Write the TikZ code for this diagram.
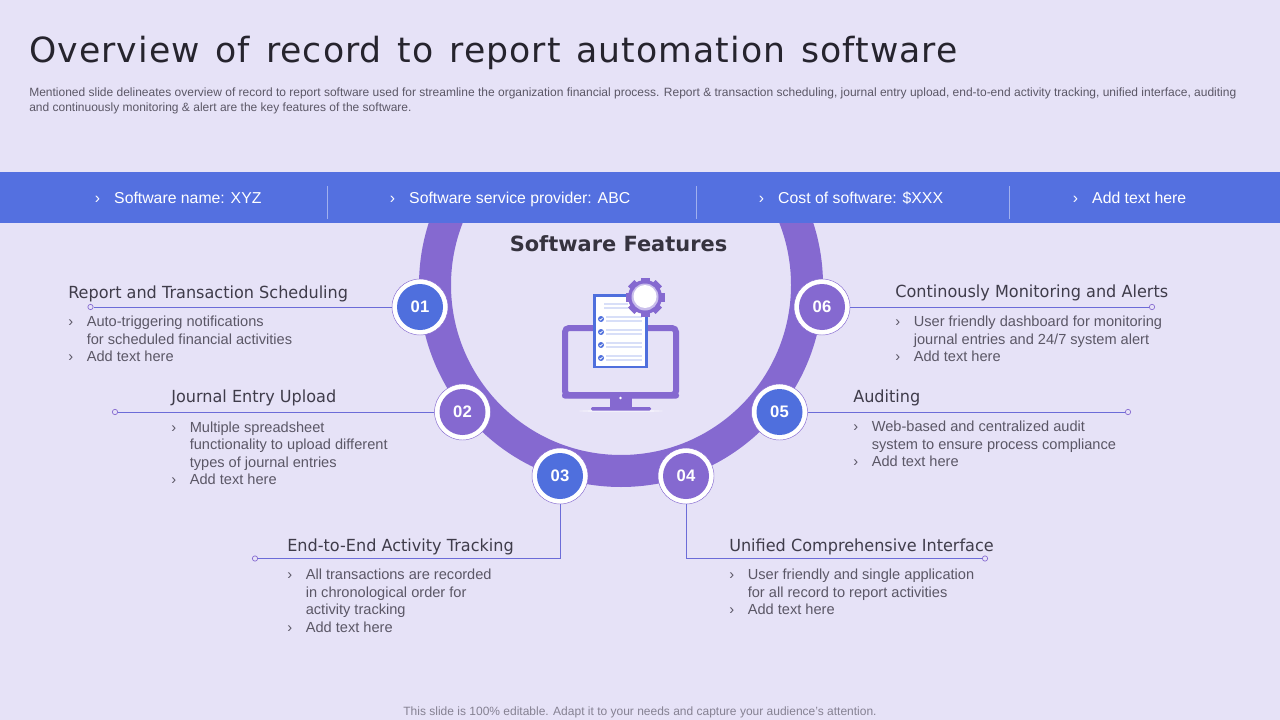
\documentclass[tikz,border=0pt]{standalone}
\usepackage{fontspec}
\setmainfont{Liberation Sans}
\newfontfamily\headfont{DejaVu Sans}
\newfontfamily\subheadfont[FakeStretch=0.965]{DejaVu Sans}
\newfontfamily\titlefont[LetterSpace=3,WordSpace=1.32]{DejaVu Sans}
\definecolor{slidebg}{HTML}{E6E2F7}
\definecolor{bandblue}{HTML}{5470E0}
\definecolor{discblue}{HTML}{4F6FDD}
\definecolor{ringpurple}{HTML}{8569D0}
\definecolor{inkdark}{HTML}{26242E}
\definecolor{inkhead}{HTML}{3F3C4A}
\definecolor{inkbody}{HTML}{5B5766}
\newcommand{\chv}{\makebox[13.9pt][l]{›}}
\newcommand{\ind}{\hspace*{13.9pt}}
\tikzset{
  outerdisc/.style={circle, draw=ringpurple, line width=0.35pt, fill=white, inner sep=0pt, minimum size=42pt},
  numdisc/.style={circle, inner sep=0pt, minimum size=34.5pt, text=white, font=\fontsize{12.5}{14}\selectfont\bfseries},
  endmark/.style={circle, draw=ringpurple, fill=slidebg, line width=0.5pt, inner sep=0pt, minimum size=4pt},
  leadline/.style={draw=ringpurple!50!bandblue, line width=0.6pt},
  headtext/.style={anchor=base west, inner sep=0pt, text=inkhead, font=\subheadfont\fontsize{12.5}{15}\selectfont},
  bodytext/.style={anchor=north west, inner sep=0pt, align=left, text=inkbody, font=\fontsize{10.95}{13.1}\selectfont},
  bandtext/.style={anchor=base west, inner sep=0pt, text=white, font=\fontsize{11.85}{14}\selectfont},
  banddiv/.style={draw=white!45!bandblue, line width=0.4pt},
  doclines/.style={draw=discblue!22!white, line width=1.1pt}
}
\begin{document}
\begin{tikzpicture}[x=0.75pt, y=-0.75pt]
  \fill[slidebg] (0,0) rectangle (1280,720);
  \useasboundingbox (0,0) rectangle (1280,720);
  % title block
  \node[anchor=base west, inner sep=0pt, text=inkdark, font=\titlefont\fontsize{26}{30}\selectfont] (title) at (29,63) {Overview of record to report automation software};
  \node[anchor=north west, inner sep=0pt, align=left, text=inkbody, font=\fontsize{9}{10.7}\selectfont] (intro) at (29,88) {Mentioned slide delineates overview of record to report software used for streamline the organization financial process. Report \& transaction scheduling, journal entry upload, end-to-end activity tracking, unified interface, auditing\\and continuously monitoring \& alert are the key features of the software.};
  % ring, only below the band
  \begin{scope}
    \clip (300,190) rectangle (950,500);
    \draw[ringpurple, line width=24pt] (621,285) circle (186);
  \end{scope}
  % band
  \fill[bandblue] (0,172) rectangle (1280,223);
  \foreach \x in {327,696,1009}
    \draw[banddiv] (\x,186) -- (\x,219);
  \node[bandtext] (bandA) at (94.5,203.5) {\chv\hspace*{0.7pt}Software name: XYZ};
  \node[bandtext] (bandB) at (389.5,203.5) {\chv\hspace*{0.7pt}Software service provider: ABC};
  \node[bandtext] (bandC) at (758.5,203.5) {\chv\hspace*{0.7pt}Cost of software: \$XXX};
  \node[bandtext] (bandD) at (1072.5,203.5) {\chv\hspace*{0.7pt}Add text here};
  \node[anchor=base, inner sep=0pt, text=inkhead!85!black, font=\headfont\bfseries\fontsize{15.7}{18}\selectfont] (features) at (618.5,252) {Software Features};
  % icon
  \fill[white, opacity=0.5] (621,411) ellipse (42 and 1.2);
  \fill[ringpurple] (610,396) rectangle (632,407);
  \fill[ringpurple, rounded corners=1pt] (591,407) rectangle (651,410.5);
  \draw[ringpurple, line width=4.5pt, rounded corners=3pt] (565,328) rectangle (676,395);
  \fill[ringpurple, rounded corners=2pt] (562,392.5) rectangle (679,398.5);
  \fill[white] (620.5,398) circle (1.4);
  \fill[white] (594.5,295.5) rectangle (646.5,367);
  \draw[discblue, line width=2.2pt] (594.5,295.5) rectangle (646.5,367);
  \foreach \y in {304,308}
    \draw[doclines] (604,\y) -- (628,\y);
  \foreach \y in {319,332,345,358}{
    \fill[discblue] (601,\y) circle (3);
    \draw[white, line width=0.5pt] (599.6,\y) -- (600.7,\y+1.1) -- (602.6,\y-1.1);
    \draw[doclines] (606,\y-1.8) -- (642,\y-1.8);
    \draw[doclines] (606,\y+1.8) -- (642,\y+1.8);
  }
  \fill[ringpurple] (645,297) circle (17);
  \foreach \a in {0,45,...,315}
    \fill[ringpurple, rotate around={\a:(645,297)}] (640.5,277.5) rectangle (649.5,285);
  \fill[slidebg!70!ringpurple] (645,297) circle (13.5);
  \fill[white] (645,296.5) circle (11.5);
  % discs
  \node[outerdisc] (d1) at (420,307) {};
  \node[outerdisc] (d2) at (462.5,412) {};
  \node[outerdisc] (d3) at (560,476) {};
  \node[outerdisc] (d4) at (686,476) {};
  \node[outerdisc] (d5) at (779.5,412) {};
  \node[outerdisc] (d6) at (822,307) {};
  \node[numdisc, fill=discblue] (n1) at (d1) {01};
  \node[numdisc, fill=ringpurple] (n2) at (d2) {02};
  \node[numdisc, fill=discblue] (n3) at (d3) {03};
  \node[numdisc, fill=ringpurple] (n4) at (d4) {04};
  \node[numdisc, fill=discblue] (n5) at (d5) {05};
  \node[numdisc, fill=ringpurple] (n6) at (d6) {06};
  % leaders
  \node[endmark] (e1) at (90.5,307) {};
  \node[endmark] (e2) at (115,412) {};
  \node[endmark] (e3) at (255,558.5) {};
  \node[endmark] (e4) at (985,558.5) {};
  \node[endmark] (e5) at (1128,412) {};
  \node[endmark] (e6) at (1152,307) {};
  \draw[leadline] (d1) -- (e1);
  \draw[leadline] (d2) -- (e2);
  \draw[leadline] (d3) -- (d3 |- e3) -- (e3);
  \draw[leadline] (d4) -- (d4 |- e4) -- (e4);
  \draw[leadline] (d5) -- (e5);
  \draw[leadline] (d6) -- (e6);
  % left text
  \node[headtext] (h1) at (68,298) {Report and Transaction Scheduling};
  \node[bodytext] (b1) at (68,316) {\chv Auto-triggering notifications\\\ind for scheduled financial activities\\\chv Add text here};
  \node[headtext] (h2) at (171,402.8) {Journal Entry Upload};
  \node[bodytext] (b2) at (171,421.5) {\chv Multiple spreadsheet\\\ind functionality to upload different\\\ind types of journal entries\\\chv Add text here};
  \node[headtext] (h3) at (287,551) {End-to-End Activity Tracking};
  \node[bodytext] (b3) at (287,569) {\chv All transactions are recorded\\\ind in chronological order for\\\ind activity tracking\\\chv Add text here};
  % right text
  \node[headtext] (h4) at (729,551) {Unified Comprehensive Interface};
  \node[bodytext] (b4) at (729,569) {\chv User friendly and single application\\\ind for all record to report activities\\\chv Add text here};
  \node[headtext] (h5) at (853,402.8) {Auditing};
  \node[bodytext] (b5) at (853,421) {\chv Web-based and centralized audit\\\ind system to ensure process compliance\\\chv Add text here};
  \node[headtext] (h6) at (895,297) {Continously Monitoring and Alerts};
  \node[bodytext] (b6) at (895,316) {\chv User friendly dashboard for monitoring\\\ind journal entries and 24/7 system alert\\\chv Add text here};
  % footer
  \node[anchor=base, inner sep=0pt, text=inkbody!70!slidebg, font=\fontsize{9}{11}\selectfont] (foot) at (640,715) {This slide is 100\% editable. Adapt it to your needs and capture your audience's attention.};
\end{tikzpicture}
\end{document}
